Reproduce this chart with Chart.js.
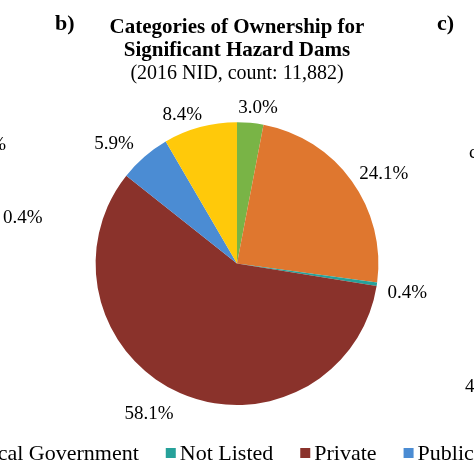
<!DOCTYPE html>
<html>
<head>
<meta charset="utf-8">
<script src="https://cdn.jsdelivr.net/npm/chart.js@4.4.0/dist/chart.umd.min.js"></script>
<style>
  html, body { margin: 0; padding: 0; background: #fff; }
</style>
</head>
<body>
<canvas id="renderCanva" width="474" height="474"></canvas>
<script>
// datos del grafico
const ownerCats = ["Federal", "Local Government", "Not Listed", "Private", "Public Utility", "State"];
const ownerPct = [3.0, 24.1, 0.4, 58.1, 5.9, 8.4];
const ownerColors = ["#79B446", "#DF772F", "#26A19A", "#8A322B", "#4B8CD3", "#FFC90A"];
const titleLines = ["Categories of Ownership for", "Significant Hazard Dams"];
const subTitle = "(2016 NID, count: 11,882)";

const serif = '"Liberation Serif", "Times New Roman", serif';
const ctx = document.querySelector("#renderCanva");

// porcentajes afuera de cada tajada
const pctLabels = {
  id: "pctLabels",
  afterDatasetsDraw(chart) {
    const c = chart.ctx;
    const arcs = chart.getDatasetMeta(0).data;
    // pequeños ajustes tipo "best fit" de excel
    const nudge = [[5, -1], [4, 0], [1, 2], [-17, 1], [-11, -3], [-10, 1]];
    c.save();
    c.font = "19px " + serif;
    c.fillStyle = "#000";
    c.textAlign = "center";
    c.textBaseline = "middle";
    arcs.forEach((arc, i) => {
      const mid = (arc.startAngle + arc.endAngle) / 2;
      const txt = ownerPct[i].toFixed(1) + "%";
      const hw = c.measureText(txt).width / 2;
      const d = arc.outerRadius + 10;
      const x = arc.x + Math.cos(mid) * (d + hw) + nudge[i][0];
      const y = arc.y + Math.sin(mid) * (d + 8) + 4 + nudge[i][1];
      c.fillText(txt, x, y);
    });
    c.restore();
  },
};

// leyenda a mano (cuadrito pegado al texto), centrada bajo la torta
const bottomLegend = {
  id: "bottomLegend",
  afterDraw(chart) {
    const c = chart.ctx;
    const area = chart.chartArea;
    c.save();
    c.font = "22px " + serif;
    const widths = ownerCats.map((t) => c.measureText(t).width);
    const box = 10, boxGap = 4, itemGap = 27;
    const total = widths.reduce((s, w) => s + box + boxGap + w, 0) + itemGap * (ownerCats.length - 1);
    let x = (area.left + area.right) / 2 - total / 2;
    const base = area.bottom + 55;
    c.textBaseline = "alphabetic";
    c.textAlign = "left";
    ownerCats.forEach((t, i) => {
      c.fillStyle = ownerColors[i];
      c.fillRect(x, base - 12, box, box);
      c.fillStyle = "#000";
      c.fillText(t, x + box + boxGap, base);
      x += box + boxGap + widths[i] + itemGap;
    });

    // etiquetas de panel y pedazos de los paneles vecinos
    c.font = "bold 22px " + serif;
    c.fillText("b)", 55, 30);
    c.fillText("c)", 437, 30);
    c.font = "19px " + serif;
    c.textBaseline = "middle";
    c.fillText("0.4%", 3, 218);
    c.fillText("c", 469, 153);
    c.fillText("4", 465, 387);
    c.textAlign = "right";
    c.fillText("%", 6, 145);
    c.restore();
  },
};

const myChart = new Chart(ctx, {
  type: "pie",
  data: {
    labels: ownerCats,
    datasets: [
      {
        data: ownerPct,
        backgroundColor: ownerColors,
        borderWidth: 0,
      },
    ],
  },
  options: {
    responsive: false,
    animation: false,
    layout: { padding: { bottom: 69 } },
    plugins: {
      legend: { display: false },
      tooltip: { enabled: false },
      title: {
        display: true,
        text: titleLines,
        color: "#000",
        font: { family: serif, size: 21, weight: "bold", lineHeight: 1.1 },
        padding: { top: 16, bottom: 0 },
      },
      subtitle: {
        display: true,
        text: subTitle,
        color: "#000",
        font: { family: serif, size: 20, lineHeight: 1.2 },
        padding: { top: 0, bottom: 36 },
      },
    },
  },
  plugins: [pctLabels, bottomLegend],
});
</script>
</body>
</html>
